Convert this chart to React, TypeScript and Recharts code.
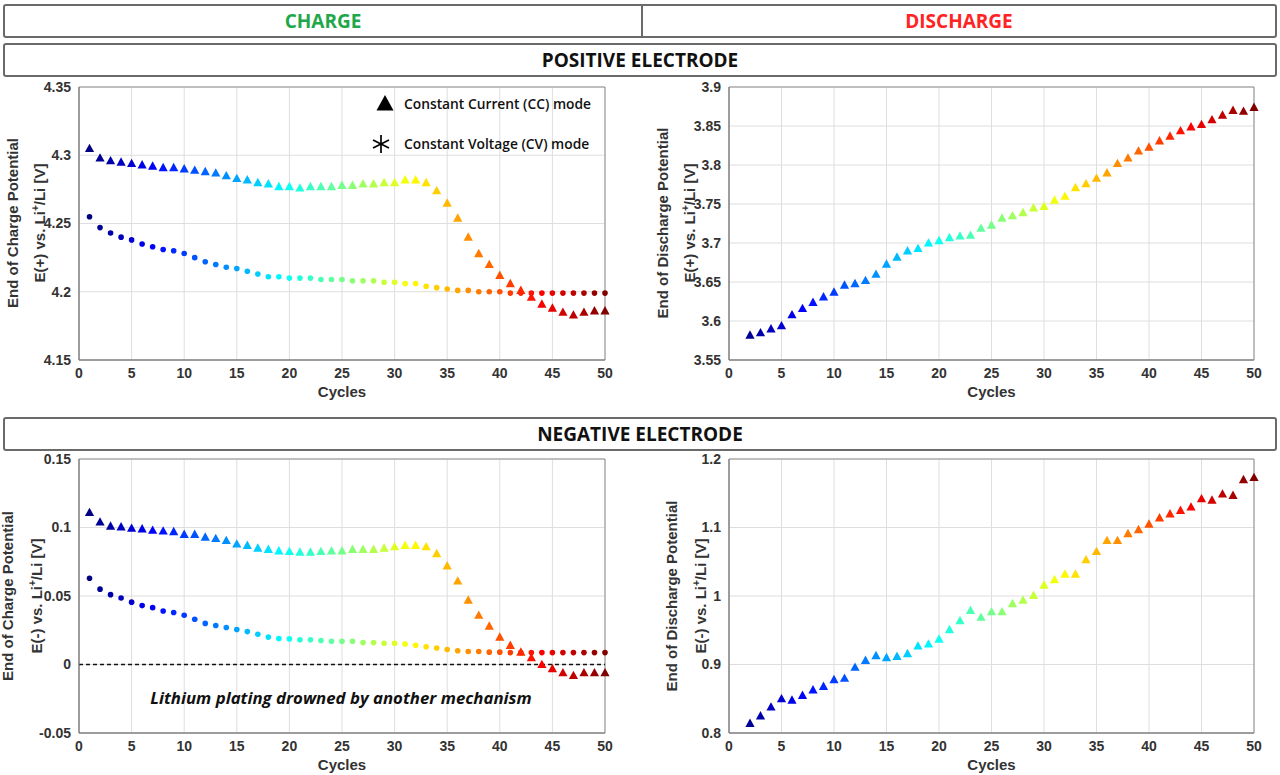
import React from "react";
import {
  CartesianGrid,
  ReferenceArea,
  ReferenceLine,
  Scatter,
  ScatterChart,
  XAxis,
  YAxis,
} from "recharts";

// cycle numbers (x axis)
const cycles = [
  1, 2, 3, 4, 5, 6, 7, 8, 9, 10, 11, 12, 13, 14, 15, 16, 17, 18, 19, 20, 21,
  22, 23, 24, 25, 26, 27, 28, 29, 30, 31, 32, 33, 34, 35, 36, 37, 38, 39, 40,
  41, 42, 43, 44, 45, 46, 47, 48, 49, 50,
];
// discharge values start at cycle 2
const dischargeCycles = cycles.slice(1);

const xTicks = [0, 5, 10, 15, 20, 25, 30, 35, 40, 45, 50];

// positive electrode, end of charge (CC / CV)
const posChargeCC = [
  4.305, 4.298, 4.296, 4.295, 4.294, 4.293, 4.292, 4.291, 4.291, 4.29,
  4.289, 4.288, 4.287, 4.285, 4.283, 4.282, 4.28, 4.279, 4.277, 4.277,
  4.276, 4.277, 4.277, 4.277, 4.278, 4.278, 4.279, 4.279, 4.28, 4.28,
  4.282, 4.282, 4.28, 4.274, 4.265, 4.254, 4.24, 4.228, 4.22, 4.212,
  4.206, 4.201, 4.196, 4.191, 4.188, 4.185, 4.183, 4.185, 4.186, 4.186,
];
const posChargeCV = [
  4.255, 4.247, 4.243, 4.24, 4.238, 4.235, 4.233, 4.231, 4.23, 4.228,
  4.225, 4.222, 4.22, 4.218, 4.217, 4.215, 4.213, 4.211, 4.211, 4.21,
  4.21, 4.21, 4.209, 4.209, 4.209, 4.208, 4.208, 4.208, 4.207, 4.207,
  4.206, 4.206, 4.204, 4.203, 4.202, 4.201, 4.201, 4.2, 4.2, 4.2,
  4.199, 4.199, 4.199, 4.199, 4.199, 4.199, 4.199, 4.199, 4.199, 4.199,
];
// positive electrode, end of discharge (cycles 2..50)
const posDischarge = [
  3.582, 3.585, 3.59, 3.594, 3.608, 3.616, 3.624, 3.631, 3.637, 3.646,
  3.648, 3.652, 3.66, 3.673, 3.682, 3.69, 3.693, 3.7, 3.703, 3.707,
  3.709, 3.71, 3.719, 3.723, 3.732, 3.735, 3.739, 3.745, 3.747, 3.755,
  3.76, 3.771, 3.776, 3.783, 3.79, 3.802, 3.809, 3.818, 3.823, 3.831,
  3.837, 3.844, 3.849, 3.852, 3.858, 3.864, 3.87, 3.869, 3.874,
];

// negative electrode, end of charge (CC / CV)
const negChargeCC = [
  0.111, 0.104, 0.101, 0.1005, 0.0995, 0.099, 0.098, 0.0975, 0.097, 0.095,
  0.095, 0.093, 0.092, 0.0905, 0.088, 0.087, 0.085, 0.084, 0.083, 0.0825,
  0.082, 0.082, 0.0825, 0.083, 0.083, 0.084, 0.084, 0.084, 0.085, 0.086,
  0.087, 0.087, 0.086, 0.081, 0.072, 0.061, 0.047, 0.036, 0.028, 0.02,
  0.014, 0.009, 0.005, 0.0, -0.003, -0.006, -0.008, -0.006, -0.006, -0.006,
];
const negChargeCV = [
  0.063, 0.055, 0.051, 0.0485, 0.0455, 0.043, 0.0415, 0.039, 0.038, 0.036,
  0.033, 0.03, 0.0285, 0.027, 0.0255, 0.024, 0.022, 0.02, 0.019, 0.0187,
  0.018, 0.018, 0.0175, 0.017, 0.017, 0.017, 0.016, 0.016, 0.0155, 0.0155,
  0.015, 0.014, 0.013, 0.012, 0.011, 0.01, 0.0095, 0.0095, 0.009, 0.009,
  0.0087, 0.0087, 0.0087, 0.0087, 0.0087, 0.0087, 0.0087, 0.0087, 0.0087, 0.0087,
];
// negative electrode, end of discharge (cycles 2..50)
const negDischarge = [
  0.814, 0.825, 0.838, 0.85, 0.848, 0.855, 0.863, 0.868, 0.878, 0.88,
  0.896, 0.906, 0.913, 0.91, 0.912, 0.916, 0.927, 0.93, 0.937, 0.951,
  0.964, 0.979, 0.969, 0.977, 0.977, 0.989, 0.994, 1.001, 1.016, 1.024,
  1.032, 1.032, 1.053, 1.065, 1.081, 1.081, 1.091, 1.097, 1.105, 1.114,
  1.12, 1.125, 1.13, 1.142, 1.14, 1.149, 1.147, 1.17, 1.173,
];

const posChargeTicks = [4.15, 4.2, 4.25, 4.3, 4.35];
const posDischargeTicks = [3.55, 3.6, 3.65, 3.7, 3.75, 3.8, 3.85, 3.9];
const negChargeTicks = [-0.05, 0, 0.05, 0.1, 0.15];
const negDischargeTicks = [0.8, 0.9, 1, 1.1, 1.2];

const AXIS_FONT = "'Liberation Sans', Arial, sans-serif";
const TITLE_FONT = "'Open Sans', 'Noto Sans', sans-serif";

// MATLAB "jet" colour map over cycles 1..50
function jet(cycle: number) {
  const t = (cycle - 1) / 49;
  const c = (v: number) => Math.round(255 * Math.max(0, Math.min(1, v)));
  return `rgb(${c(1.5 - Math.abs(4 * t - 3))},${c(1.5 - Math.abs(4 * t - 2))},${c(
    1.5 - Math.abs(4 * t - 1)
  )})`;
}

const toRows = (xs: number[], ys: number[]) =>
  xs.map((x, i) => ({ cycle: x, v: ys[i] }));

const triangleShape = (p: any) => {
  const { cx, cy, payload } = p;
  if (cx == null || cy == null) return <g />;
  return (
    <path
      d={`M${cx},${cy - 4.8} L${cx + 4.6},${cy + 3.6} L${cx - 4.6},${cy + 3.6} Z`}
      fill={jet(payload.cycle)}
    />
  );
};

const dotShape = (p: any) => {
  const { cx, cy, payload } = p;
  if (cx == null || cy == null) return <g />;
  return <circle cx={cx} cy={cy} r={2.8} fill={jet(payload.cycle)} />;
};

const fmt = (v: number) => String(Number(v.toFixed(3)));

interface PanelProps {
  left: number;
  top: number;
  height: number;
  marginRight: number;
  xAxisHeight: number;
  cyclesOffset: number;
  domain: [number, number];
  ticks: number[];
  series: { rows: { cycle: number; v: number }[]; shape: any }[];
  zeroLine?: boolean;
}

function Panel(props: PanelProps) {
  const { left, top, height, marginRight, xAxisHeight, cyclesOffset, domain, ticks, series } =
    props;
  return (
    <div style={{ position: "absolute", left, top }}>
      <ScatterChart
        width={620}
        height={height}
        margin={{ top: 10, right: marginRight, left: 0, bottom: 0 }}
      >
        <CartesianGrid stroke="#dedede" />
        <XAxis
          type="number"
          dataKey="cycle"
          domain={[0, 50]}
          ticks={xTicks}
          height={xAxisHeight}
          tickLine={false}
          axisLine={{ stroke: "#7a7a7a" }}
          tick={{ fill: "#333", fontSize: 14, fontWeight: 700, fontFamily: AXIS_FONT }}
          label={{
            value: "Cycles",
            position: "insideBottom",
            offset: cyclesOffset,
            fill: "#333",
            fontSize: 15,
            fontWeight: 700,
            fontFamily: AXIS_FONT,
          }}
        />
        <YAxis
          type="number"
          dataKey="v"
          domain={domain}
          ticks={ticks}
          width={79}
          allowDataOverflow
          tickLine={false}
          axisLine={{ stroke: "#7a7a7a" }}
          tickFormatter={fmt}
          tick={{ fill: "#333", fontSize: 14, fontWeight: 700, fontFamily: AXIS_FONT }}
        />
        <ReferenceArea
          x1={0}
          x2={50}
          y1={domain[0]}
          y2={domain[1]}
          fill="none"
          stroke="#8e8e8e"
        />
        {props.zeroLine && (
          <ReferenceLine y={0} stroke="#111" strokeWidth={1.5} strokeDasharray="4 3" />
        )}
        {series.map((s, i) => (
          <Scatter key={i} data={s.rows} shape={s.shape} isAnimationActive={false} />
        ))}
      </ScatterChart>
    </div>
  );
}

function YTitle({ x1, x2, cy, l1, sign }: { x1: number; x2: number; cy: number; l1: string; sign: string }) {
  const base: React.CSSProperties = {
    position: "absolute",
    top: cy,
    transform: "translate(-50%, -50%) rotate(-90deg)",
    whiteSpace: "nowrap",
    fontFamily: AXIS_FONT,
    fontWeight: 700,
    fontSize: 15,
    color: "#333",
    lineHeight: "16px",
  };
  return (
    <>
      <div style={{ ...base, left: x1 }}>{l1}</div>
      <div style={{ ...base, left: x2 }}>
        E({sign}) vs. Li<sup style={{ fontSize: 10 }}>+</sup>/Li [V]
      </div>
    </>
  );
}

function HeaderBox({ top, children }: { top: number; children: React.ReactNode }) {
  return (
    <div
      style={{
        position: "absolute",
        left: 3,
        top,
        width: 1274,
        height: 34,
        boxSizing: "border-box",
        border: "2px solid #6a6a6a",
        borderRadius: 3,
        display: "flex",
        alignItems: "center",
      }}
    >
      {children}
    </div>
  );
}

const headText: React.CSSProperties = {
  fontFamily: TITLE_FONT,
  fontWeight: 700,
  fontSize: 19,
  textAlign: "center",
  lineHeight: "30px",
};

const legendText: React.CSSProperties = {
  position: "absolute",
  left: 404,
  fontFamily: TITLE_FONT,
  fontWeight: 600,
  fontSize: 13.8,
  color: "#111",
  lineHeight: "18px",
  whiteSpace: "nowrap",
};

export default function App() {
  return (
    <div
      style={{
        position: "absolute",
        left: 0,
        top: 0,
        width: 1280,
        height: 775,
        overflow: "hidden",
        background: "#fff",
      }}
    >
      <HeaderBox top={4}>
        <div style={{ ...headText, flex: "0 0 636px", color: "#1fa84a" }}>CHARGE</div>
        <div style={{ width: 2, alignSelf: "stretch", background: "#6a6a6a" }} />
        <div style={{ ...headText, flex: 1, color: "#ff2424" }}>DISCHARGE</div>
      </HeaderBox>
      <HeaderBox top={43}>
        <div style={{ ...headText, flex: 1, color: "#111" }}>POSITIVE ELECTRODE</div>
      </HeaderBox>
      <HeaderBox top={417}>
        <div style={{ ...headText, flex: 1, color: "#111" }}>NEGATIVE ELECTRODE</div>
      </HeaderBox>

      <Panel
        left={0}
        top={77}
        height={330}
        marginRight={15}
        xAxisHeight={47}
        cyclesOffset={10}
        domain={[4.15, 4.35]}
        ticks={posChargeTicks}
        series={[
          { rows: toRows(cycles, posChargeCV), shape: dotShape },
          { rows: toRows(cycles, posChargeCC), shape: triangleShape },
        ]}
      />
      <Panel
        left={650}
        top={77}
        height={330}
        marginRight={16}
        xAxisHeight={47}
        cyclesOffset={10}
        domain={[3.55, 3.9]}
        ticks={posDischargeTicks}
        series={[{ rows: toRows(dischargeCycles, posDischarge), shape: triangleShape }]}
      />
      <Panel
        left={0}
        top={449}
        height={324}
        marginRight={15}
        xAxisHeight={40}
        cyclesOffset={3}
        domain={[-0.05, 0.15]}
        ticks={negChargeTicks}
        zeroLine
        series={[
          { rows: toRows(cycles, negChargeCV), shape: dotShape },
          { rows: toRows(cycles, negChargeCC), shape: triangleShape },
        ]}
      />
      <Panel
        left={650}
        top={449}
        height={324}
        marginRight={16}
        xAxisHeight={40}
        cyclesOffset={3}
        domain={[0.8, 1.2]}
        ticks={negDischargeTicks}
        series={[{ rows: toRows(dischargeCycles, negDischarge), shape: triangleShape }]}
      />

      <YTitle x1={13} x2={38} cy={223} l1="End of Charge Potential" sign="+" />
      <YTitle x1={663} x2={688} cy={223} l1="End of Discharge Potential" sign="+" />
      <YTitle x1={8} x2={35} cy={596} l1="End of Charge Potential" sign="-" />
      <YTitle x1={672} x2={699} cy={596} l1="End of Discharge Potential" sign="-" />

      {/* legend inside the top-left panel */}
      <svg width={20} height={20} style={{ position: "absolute", left: 375, top: 93 }}>
        <path d="M10,2 L18.5,17.5 L1.5,17.5 Z" fill="#000" />
      </svg>
      <svg width={22} height={22} style={{ position: "absolute", left: 370, top: 133 }}>
        <g stroke="#000" strokeWidth={1.7}>
          <line x1={11} y1={2} x2={11} y2={20} />
          <line x1={3} y1={7} x2={19} y2={15} />
          <line x1={3} y1={15} x2={19} y2={7} />
        </g>
      </svg>
      <div style={{ ...legendText, top: 95 }}>Constant Current (CC) mode</div>
      <div style={{ ...legendText, top: 135 }}>Constant Voltage (CV) mode</div>

      <div
        style={{
          position: "absolute",
          left: 341,
          top: 697,
          transform: "translate(-50%, -50%)",
          fontFamily: TITLE_FONT,
          fontWeight: 700,
          fontStyle: "italic",
          fontSize: 16.8,
          color: "#111",
          whiteSpace: "nowrap",
        }}
      >
        Lithium plating drowned by another mechanism
      </div>
    </div>
  );
}
